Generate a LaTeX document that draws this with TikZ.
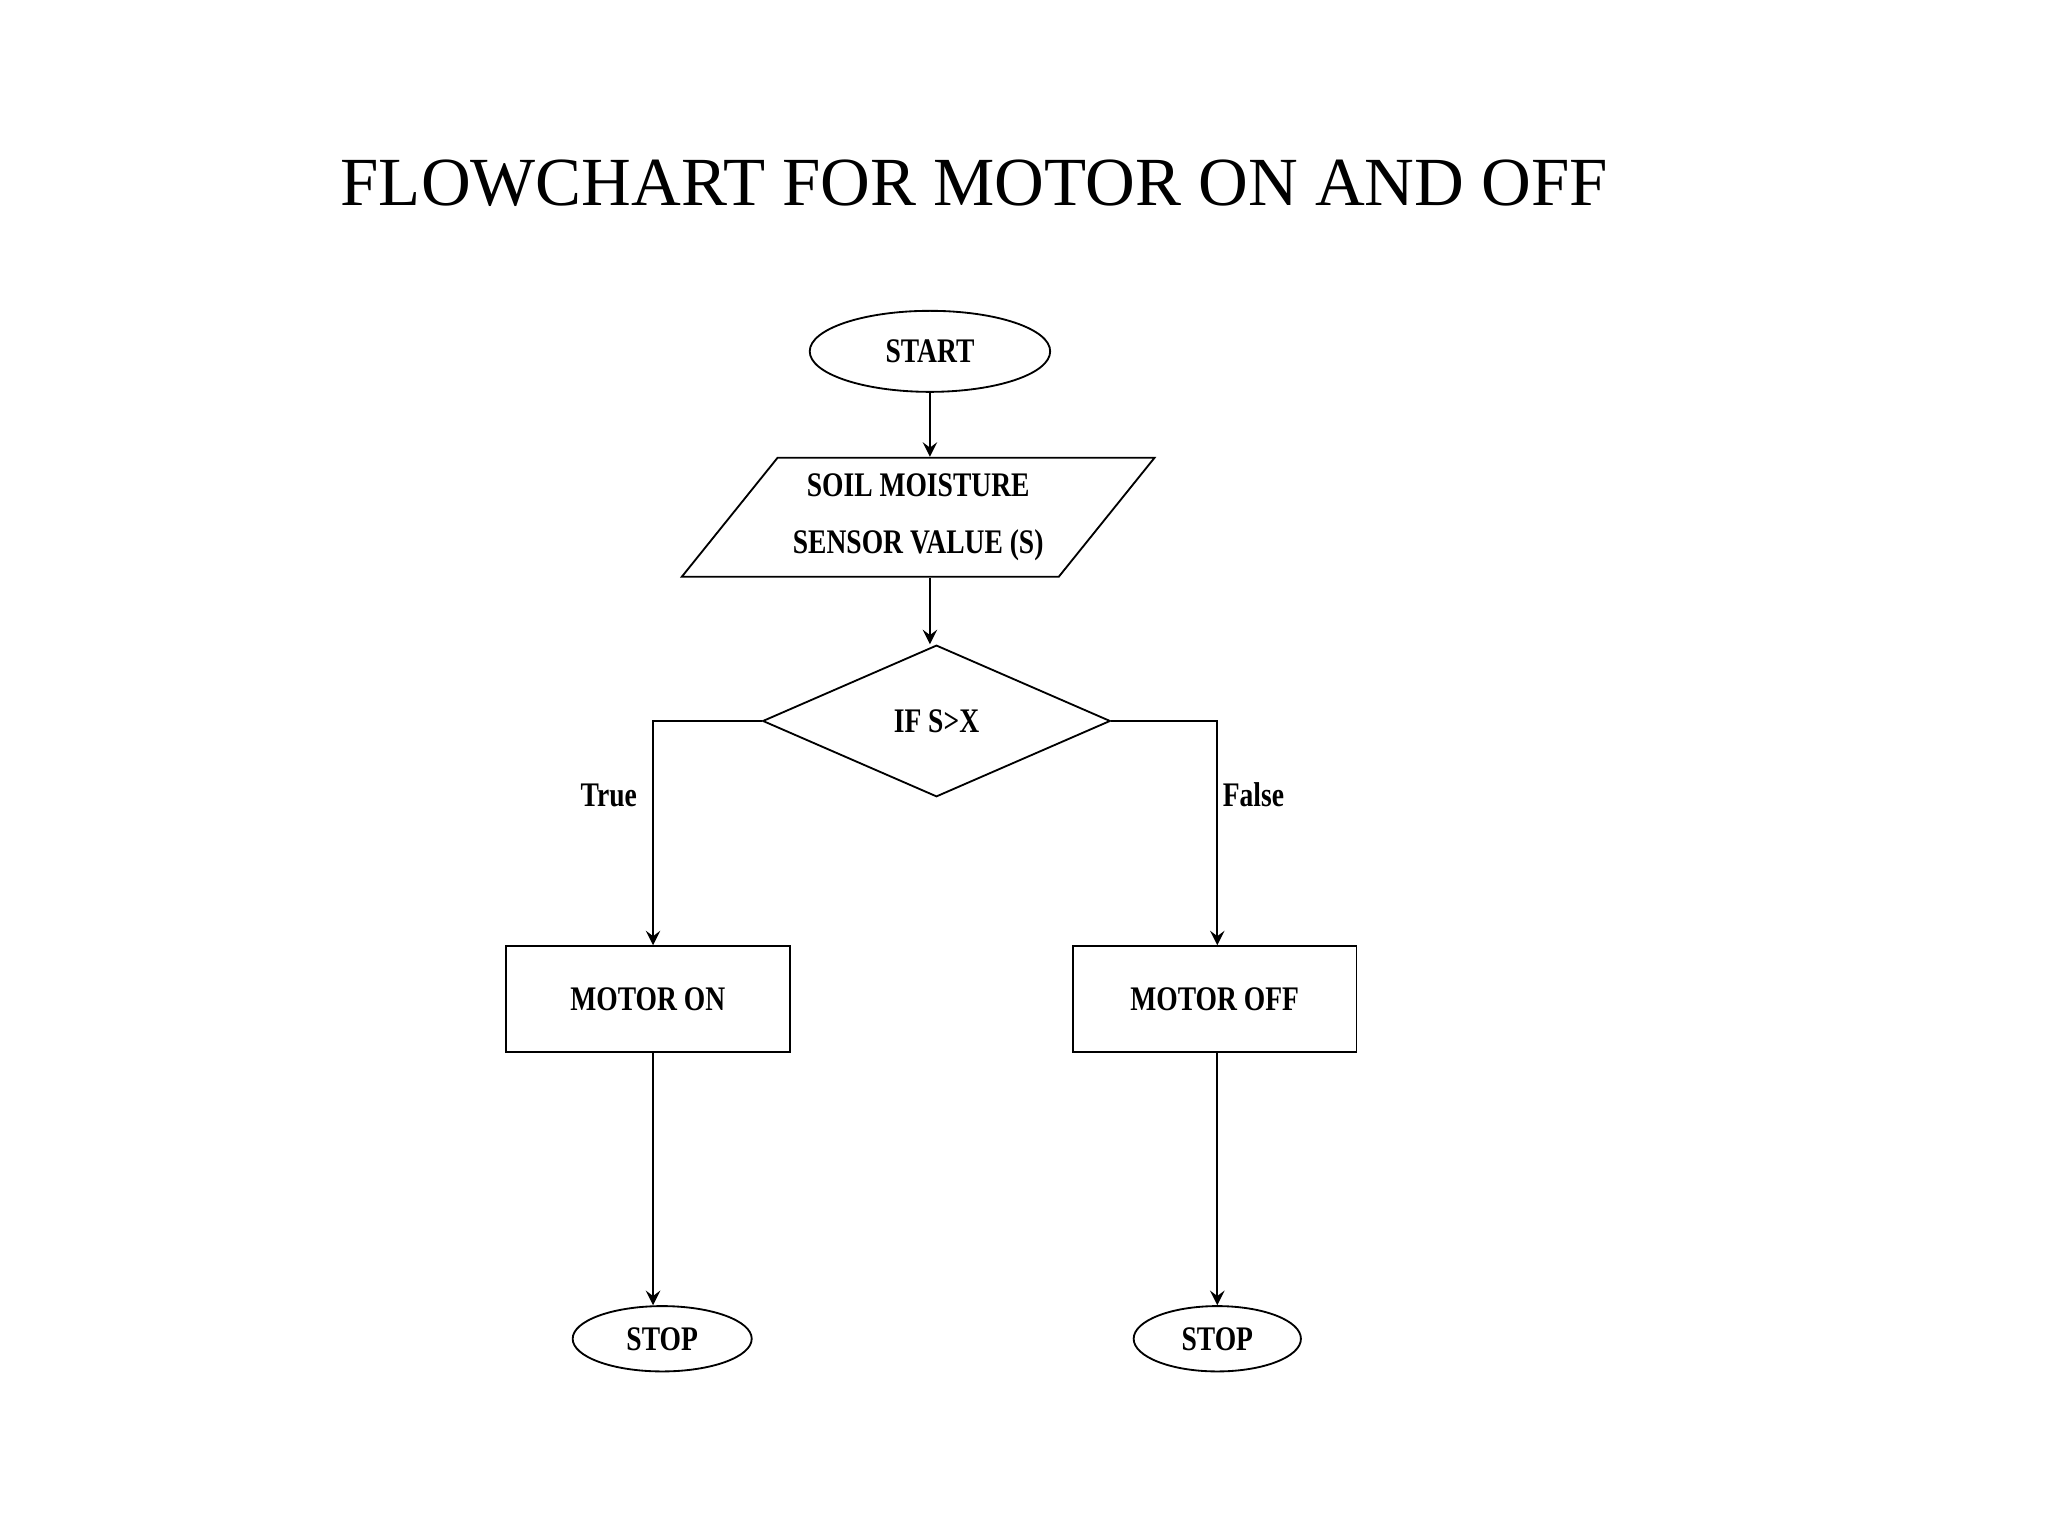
\documentclass[tikz,border=0pt]{standalone}
\usepackage{fontspec}
\setmainfont{Liberation Serif}
\newfontfamily\boxfont{Liberation Serif}[FakeStretch=0.8]
\usetikzlibrary{shapes.geometric, positioning, arrows}
\tikzset{
x=0.01cm, y=-0.01cm,
>=stealth, % small filled arrow heads
every node/.style={font=\boxfont\bfseries\fontsize{7.5}{12.5}\selectfont},
term/.style={draw, ellipse, inner sep=0pt}, % start and stop
io/.style={draw, trapezium, trapezium left angle=51, trapezium right angle=129,
  trapezium stretches=true, minimum width=2.03cm, minimum height=0.91cm, align=center},
decision/.style={draw, diamond, aspect=2.3, minimum width=2.66cm, minimum height=1.16cm, inner sep=0pt},
process/.style={draw, rectangle, minimum width=2.17cm, minimum height=0.81cm},
}
\begin{document}
\begin{tikzpicture}
            \useasboundingbox (0,0) rectangle (1568,1176);
            \node[font=\fontsize{15}{18}\selectfont] (title) at (746,140) {FLOWCHART FOR MOTOR ON AND OFF};

            \node[term, minimum width=1.84cm, minimum height=0.62cm] (start) at (712,269) {START};
            \node[io] (soil) at (703,396) {SOIL MOISTURE\\SENSOR VALUE (S)};
            \node[decision] (cond) at (717,552) {IF S>X};
            \node[process] (on) at (496,765) {MOTOR ON};
            \node[process] (off) at (930,765) {MOTOR OFF};
            \node[term, minimum width=1.37cm, minimum height=0.5cm] (stopon) at (507,1025) {STOP};
            \node[term, minimum width=1.28cm, minimum height=0.5cm] (stopoff) at (932,1025) {STOP};

            \coordinate (tl) at (500,552);
            \coordinate (tr) at (932,552);

            \draw[->] (start.south) -- (start.south |- soil.north);
            \draw[->] (soil.south -| start) -- (cond.north -| start);
            \draw[->] (cond.west) -- (tl) -- node[left, pos=0.33]{True} (tl |- on.north);
            \draw[->] (cond.east) -- (tr) -- node[right, pos=0.33, inner sep=1pt]{False} (tr |- off.north);
            \draw[->] (on.south -| tl) -- (stopon.north -| tl);
            \draw[->] (off.south -| tr) -- (stopoff.north -| tr);
        \end{tikzpicture}
\end{document}
